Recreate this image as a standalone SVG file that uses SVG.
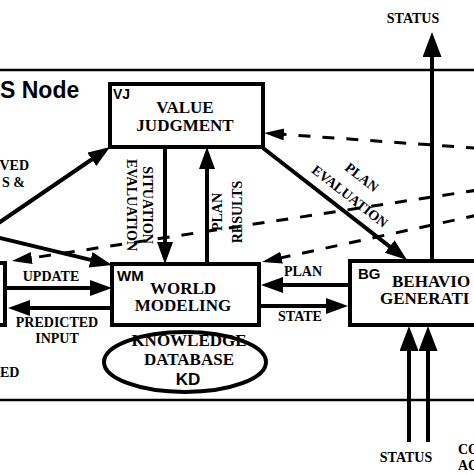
<svg xmlns="http://www.w3.org/2000/svg" width="474" height="474" viewBox="0 0 474 474">
<style>
.bx{fill:#fff;stroke:#000;stroke-width:4}
.ln{fill:none;stroke:#000;stroke-width:4}
.dl{fill:none;stroke:#000;stroke-width:3;stroke-dasharray:12 12}
.fr{fill:none;stroke:#000;stroke-width:2.5}
.t{font-family:"Liberation Serif","Times New Roman",serif;font-weight:bold;font-size:14px;fill:#000}
.tb{font-family:"Liberation Serif","Times New Roman",serif;font-weight:bold;font-size:17px;fill:#000;text-anchor:middle}
.s{font-family:"Liberation Sans",Arial,sans-serif;font-weight:bold;fill:#000}
.m{text-anchor:middle}
</style>
<defs>
<marker id="ah" markerUnits="userSpaceOnUse" markerWidth="24" markerHeight="18" refX="14" refY="8" orient="auto"><path d="M0,0 L22,8 L0,16 z" fill="#000"/></marker>
<marker id="ahL" markerUnits="userSpaceOnUse" markerWidth="26" markerHeight="20" refX="16" refY="9.5" orient="auto"><path d="M0,0 L25,9.5 L0,19 z" fill="#000"/></marker>
<marker id="ahd" markerUnits="userSpaceOnUse" markerWidth="22" markerHeight="14" refX="14" refY="6" orient="auto"><path d="M0,0 L20,6 L0,12 z" fill="#000"/></marker>
</defs>

<g id="frame">
<line class="fr" x1="0" y1="70" x2="474" y2="70"/>
<line class="fr" x1="0" y1="400" x2="474" y2="400"/>
<text class="s" x="0" y="98" font-size="23">S Node</text>
</g>

<g id="connectors">
<line class="dl" x1="478" y1="148.3" x2="270" y2="133.4" marker-end="url(#ahd)"/>
<line class="dl" x1="478" y1="190" x2="17.9" y2="260.1" marker-end="url(#ahd)"/>
<line class="dl" x1="478" y1="215" x2="267.9" y2="260.7" marker-end="url(#ahd)"/>
<line class="ln" stroke-width="4.5" x1="-5" y1="225.4" x2="103.4" y2="151.5" marker-end="url(#ah)"/>
<line class="ln" stroke-width="4.5" x1="-5" y1="236.8" x2="104.2" y2="263.1" marker-end="url(#ah)"/>
<line class="ln" x1="7" y1="288" x2="104" y2="288" marker-end="url(#ah)"/>
<line class="ln" x1="110" y1="308" x2="16" y2="308" marker-end="url(#ah)"/>
<line class="ln" x1="165" y1="149" x2="165" y2="256" marker-end="url(#ah)"/>
<line class="ln" x1="207" y1="262" x2="207" y2="155" marker-end="url(#ah)"/>
<line class="ln" stroke-width="4.5" x1="263" y1="148" x2="400.7" y2="255.1" marker-end="url(#ah)"/>
<line class="ln" x1="348" y1="285" x2="269" y2="285" marker-end="url(#ah)"/>
<line class="ln" x1="261" y1="306" x2="340" y2="306" marker-end="url(#ah)"/>
<line class="ln" x1="432" y1="259" x2="432" y2="41" marker-end="url(#ahL)"/>
<line class="ln" x1="409" y1="442" x2="409" y2="335" marker-end="url(#ahL)"/>
<line class="ln" x1="428" y1="442" x2="428" y2="335" marker-end="url(#ahL)"/>
<text class="t m" x="51" y="281">UPDATE</text>
<text class="t m" x="57" y="327">PREDICTED</text>
<text class="t m" x="57" y="343">INPUT</text>
<text class="t m" transform="translate(143,205) rotate(90)">SITUATION</text>
<text class="t m" transform="translate(127,205) rotate(90)">EVALUATION</text>
<text class="t m" transform="translate(222,212) rotate(-90)">PLAN</text>
<text class="t m" transform="translate(242,212) rotate(-90)">RESULTS</text>
<text class="t m" transform="translate(359,181) rotate(38)">PLAN</text>
<text class="t m" transform="translate(347,200) rotate(38)">EVALUATION</text>
<text class="t m" x="303" y="276">PLAN</text>
<text class="t m" x="300" y="321">STATE</text>
<text class="t m" x="413" y="23">STATUS</text>
<text class="t m" x="406" y="462">STATUS</text>
<text class="t" x="458" y="454">CO</text>
<text class="t" x="458" y="470">AC</text>
</g>

<g id="SP">
<path class="ln" d="M-5,263 H5 V325 H-5"/>
<text class="t" x="29" y="170" text-anchor="end">VED</text>
<text class="t" x="25" y="187" text-anchor="end">S &amp;</text>
<text class="t" x="0" y="377">ED</text>
</g>

<g id="VJ">
<rect class="bx" x="110" y="84" width="153" height="63"/>
<text class="s" x="113" y="99" font-size="14">VJ</text>
<text class="tb" x="185" y="113">VALUE</text>
<text class="tb" x="185" y="131">JUDGMENT</text>
</g>

<g id="WM">
<rect class="bx" x="112" y="264" width="147" height="61"/>
<text class="s" x="117" y="281" font-size="15">WM</text>
<text class="tb" x="183" y="294">WORLD</text>
<text class="tb" x="183" y="311">MODELING</text>
</g>

<g id="KD">
<ellipse class="bx" cx="185" cy="362" rx="81" ry="30"/>
<text class="tb" x="189" y="346">KNOWLEDGE</text>
<text class="tb" x="189" y="365">DATABASE</text>
<text class="s" x="188" y="385" font-size="17" text-anchor="middle">KD</text>
</g>

<g id="BG">
<rect class="bx" x="350" y="261" width="140" height="64"/>
<text class="s" x="358" y="279" font-size="15">BG</text>
<text class="tb" x="392" y="287" text-anchor="start" style="text-anchor:start">BEHAVIO</text>
<text class="tb" x="380" y="304" style="text-anchor:start">GENERATI</text>
</g>
</svg>
